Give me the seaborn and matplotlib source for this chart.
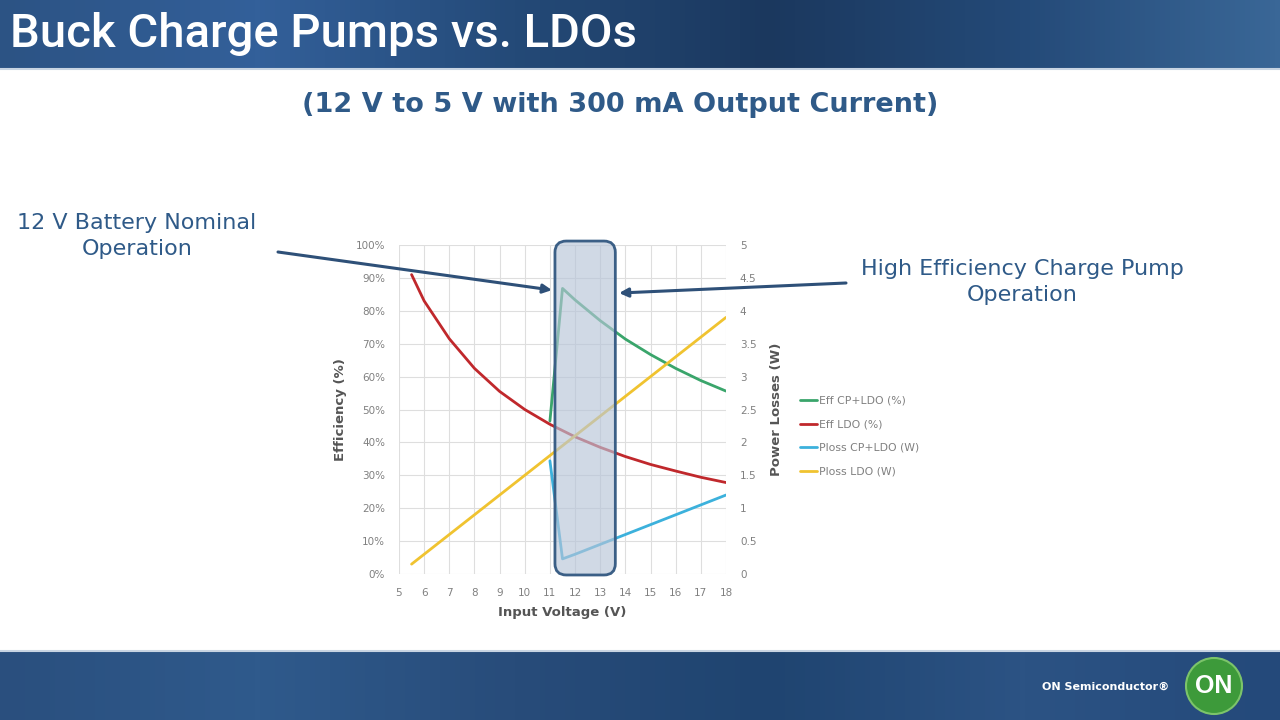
import numpy as np
import matplotlib
matplotlib.use("Agg")
import matplotlib.pyplot as plt
import seaborn as sns
from matplotlib.colors import LinearSegmentedColormap
from matplotlib.patches import FancyBboxPatch, Ellipse
from matplotlib.ticker import PercentFormatter, FuncFormatter

# values
vin_ldo = [5.5, 6, 7, 8, 9, 10, 11, 12, 13, 14, 15, 16, 17, 18]
eff_ldo = [0.91, 0.83, 0.715, 0.625, 0.555, 0.50, 0.455, 0.417, 0.385, 0.357, 0.333, 0.313, 0.294, 0.278]
ploss_ldo = [0.15, 0.30, 0.60, 0.90, 1.20, 1.50, 1.80, 2.10, 2.40, 2.70, 3.00, 3.30, 3.60, 3.90]

vin_cp = [11, 11.5, 12, 13, 14, 15, 16, 17, 18]
eff_cp = [0.465, 0.868, 0.833, 0.77, 0.714, 0.667, 0.625, 0.588, 0.556]
ploss_cp = [1.72, 0.23, 0.30, 0.45, 0.60, 0.75, 0.90, 1.05, 1.20]

x_ticks = list(range(5, 19))
eff_ticks = [i / 10 for i in range(11)]
ploss_ticks = [i / 2 for i in range(11)]

c_green, c_red, c_blue, c_yellow = "#3aa56b", "#c0282c", "#3cb1dc", "#f0c330"
navy = "#2f5a88"
gray = "#808080"

sns.set_theme(style="white")
plt.rcParams["font.family"] = ["DejaVu Sans"]

fig = plt.figure(figsize=(12.8, 7.2), dpi=100)
fig.patch.set_facecolor("white")

# header / footer bands
top_cmap = LinearSegmentedColormap.from_list(
    "top", ["#2c5384", "#33609a", "#244a78", "#1b385e", "#244a78", "#3a6797"])
bot_cmap = LinearSegmentedColormap.from_list(
    "bot", ["#2a4f7e", "#2f5a8c", "#284c7a", "#1f4470", "#2c5384", "#24497a"])
grad = np.linspace(0, 1, 256).reshape(1, -1)
top = fig.add_axes([0, 1 - 68 / 720, 1, 68 / 720])
top.imshow(grad, aspect="auto", cmap=top_cmap)
top.axis("off")
fig.add_artist(plt.Line2D([0, 1], [1 - 69 / 720] * 2, color="#c8d4e2", lw=1.5))
bot = fig.add_axes([0, 0, 1, 68 / 720])
bot.imshow(grad, aspect="auto", cmap=bot_cmap)
bot.axis("off")
fig.add_artist(plt.Line2D([0, 1], [69 / 720] * 2, color="#c8d4e2", lw=1.5))

fig.text(10 / 1280, 1 - 34 / 720, "Buck Charge Pumps vs. LDOs", color="white",
         fontsize=34, family="Roboto", fontweight="medium", va="center", ha="left")
fig.text(620 / 1280, 1 - 105 / 720, "(12 V to 5 V with 300 mA Output Current)",
         color=navy, fontsize=19.5, fontweight="bold", ha="center", va="center")

# logo
fig.text(1106 / 1280, 33 / 720, "ON Semiconductor\u00ae", color="white",
         fontsize=8, fontweight="bold", ha="center", va="center")
fig.add_artist(Ellipse((1214 / 1280, 34 / 720), 56 / 1280, 56 / 720,
                       transform=fig.transFigure, facecolor="#3d9a3a", edgecolor="#7cc46a", lw=1.5))
fig.text(1214 / 1280, 34 / 720, "ON", color="white", fontsize=18, fontweight="bold",
         ha="center", va="center", family="Liberation Sans")

# chart
ax = fig.add_axes([399 / 1280, 1 - 574 / 720, 327 / 1280, 329 / 720])
ax2 = ax.twinx()

sns.lineplot(x=vin_cp, y=eff_cp, ax=ax, color=c_green, lw=2, sort=False, label="Eff CP+LDO (%)", legend=False)
sns.lineplot(x=vin_ldo, y=eff_ldo, ax=ax, color=c_red, lw=2, sort=False, label="Eff LDO (%)", legend=False)
sns.lineplot(x=vin_cp, y=ploss_cp, ax=ax2, color=c_blue, lw=2, sort=False, label="Ploss CP+LDO (W)", legend=False)
sns.lineplot(x=vin_ldo, y=ploss_ldo, ax=ax2, color=c_yellow, lw=2, sort=False, label="Ploss LDO (W)", legend=False)

ax.set_xlim(5, 18)
ax.set_ylim(0, 1)
ax2.set_ylim(0, 5)
ax.set_xticks(x_ticks)
ax.set_yticks(eff_ticks)
ax2.set_yticks(ploss_ticks)
ax.yaxis.set_major_formatter(PercentFormatter(1.0, decimals=0))
ax2.yaxis.set_major_formatter(FuncFormatter(lambda v, p: f"{v:g}"))
ax.grid(True, color="#dedede", lw=0.8)
for a in (ax, ax2):
    for s in a.spines.values():
        s.set_visible(False)
    a.tick_params(labelsize=7.5, labelcolor=gray, length=0, pad=10)
ax.set_xlabel("Input Voltage (V)", fontsize=9.5, fontweight="bold", color="#555555", labelpad=6)
ax.set_ylabel("Efficiency (%)", fontsize=9.5, fontweight="bold", color="#555555", labelpad=6)
ax2.set_ylabel("Power Losses (W)", fontsize=9.5, fontweight="bold", color="#555555", labelpad=10)

h1, l1 = ax.get_legend_handles_labels()
h2, l2 = ax2.get_legend_handles_labels()
fig.legend(h1 + h2, l1 + l2, loc="upper left", bbox_to_anchor=(790 / 1280, 1 - 386 / 720),
           frameon=False, fontsize=7.8, handlelength=1.6, handletextpad=0.2,
           labelspacing=1.25, labelcolor=gray)

# highlight box over the charge pump region
x0, x1, y0, y1 = 11.2, 13.6, -0.003, 1.012
box = FancyBboxPatch((x0, y0), x1 - x0, y1 - y0,
                     boxstyle="round,pad=0,rounding_size=0.45",
                     mutation_aspect=25.15 / 329,
                     transform=ax.transData, facecolor="#b7c5d8", alpha=0.65,
                     edgecolor="none", clip_on=False, zorder=6)
ax2.add_patch(box)
edge = FancyBboxPatch((x0, y0), x1 - x0, y1 - y0,
                      boxstyle="round,pad=0,rounding_size=0.45",
                      mutation_aspect=25.15 / 329,
                      transform=ax.transData, facecolor="none",
                      edgecolor="#3b5f86", lw=2, clip_on=False, zorder=7)
ax2.add_patch(edge)

# callouts
fig.text(137 / 1280, 1 - 236 / 720, "12 V Battery Nominal\nOperation", color=navy,
         fontsize=16, ha="center", va="center", linespacing=1.4)
fig.text(1022 / 1280, 1 - 282 / 720, "High Efficiency Charge Pump\nOperation", color=navy,
         fontsize=16, ha="center", va="center", linespacing=1.4)
arrow = dict(arrowstyle="-|>", color="#2e5078", lw=2.2, mutation_scale=13, shrinkA=0, shrinkB=0)
ax2.annotate("", xy=(11.08, 0.863), xycoords=ax.transData,
             xytext=(278 / 1280, 1 - 252 / 720), textcoords="figure fraction",
             arrowprops=arrow, annotation_clip=False, zorder=8)
ax2.annotate("", xy=(13.75, 0.854), xycoords=ax.transData,
             xytext=(846 / 1280, 1 - 283 / 720), textcoords="figure fraction",
             arrowprops=arrow, annotation_clip=False, zorder=8)

fig.savefig("out.png", dpi=100)
